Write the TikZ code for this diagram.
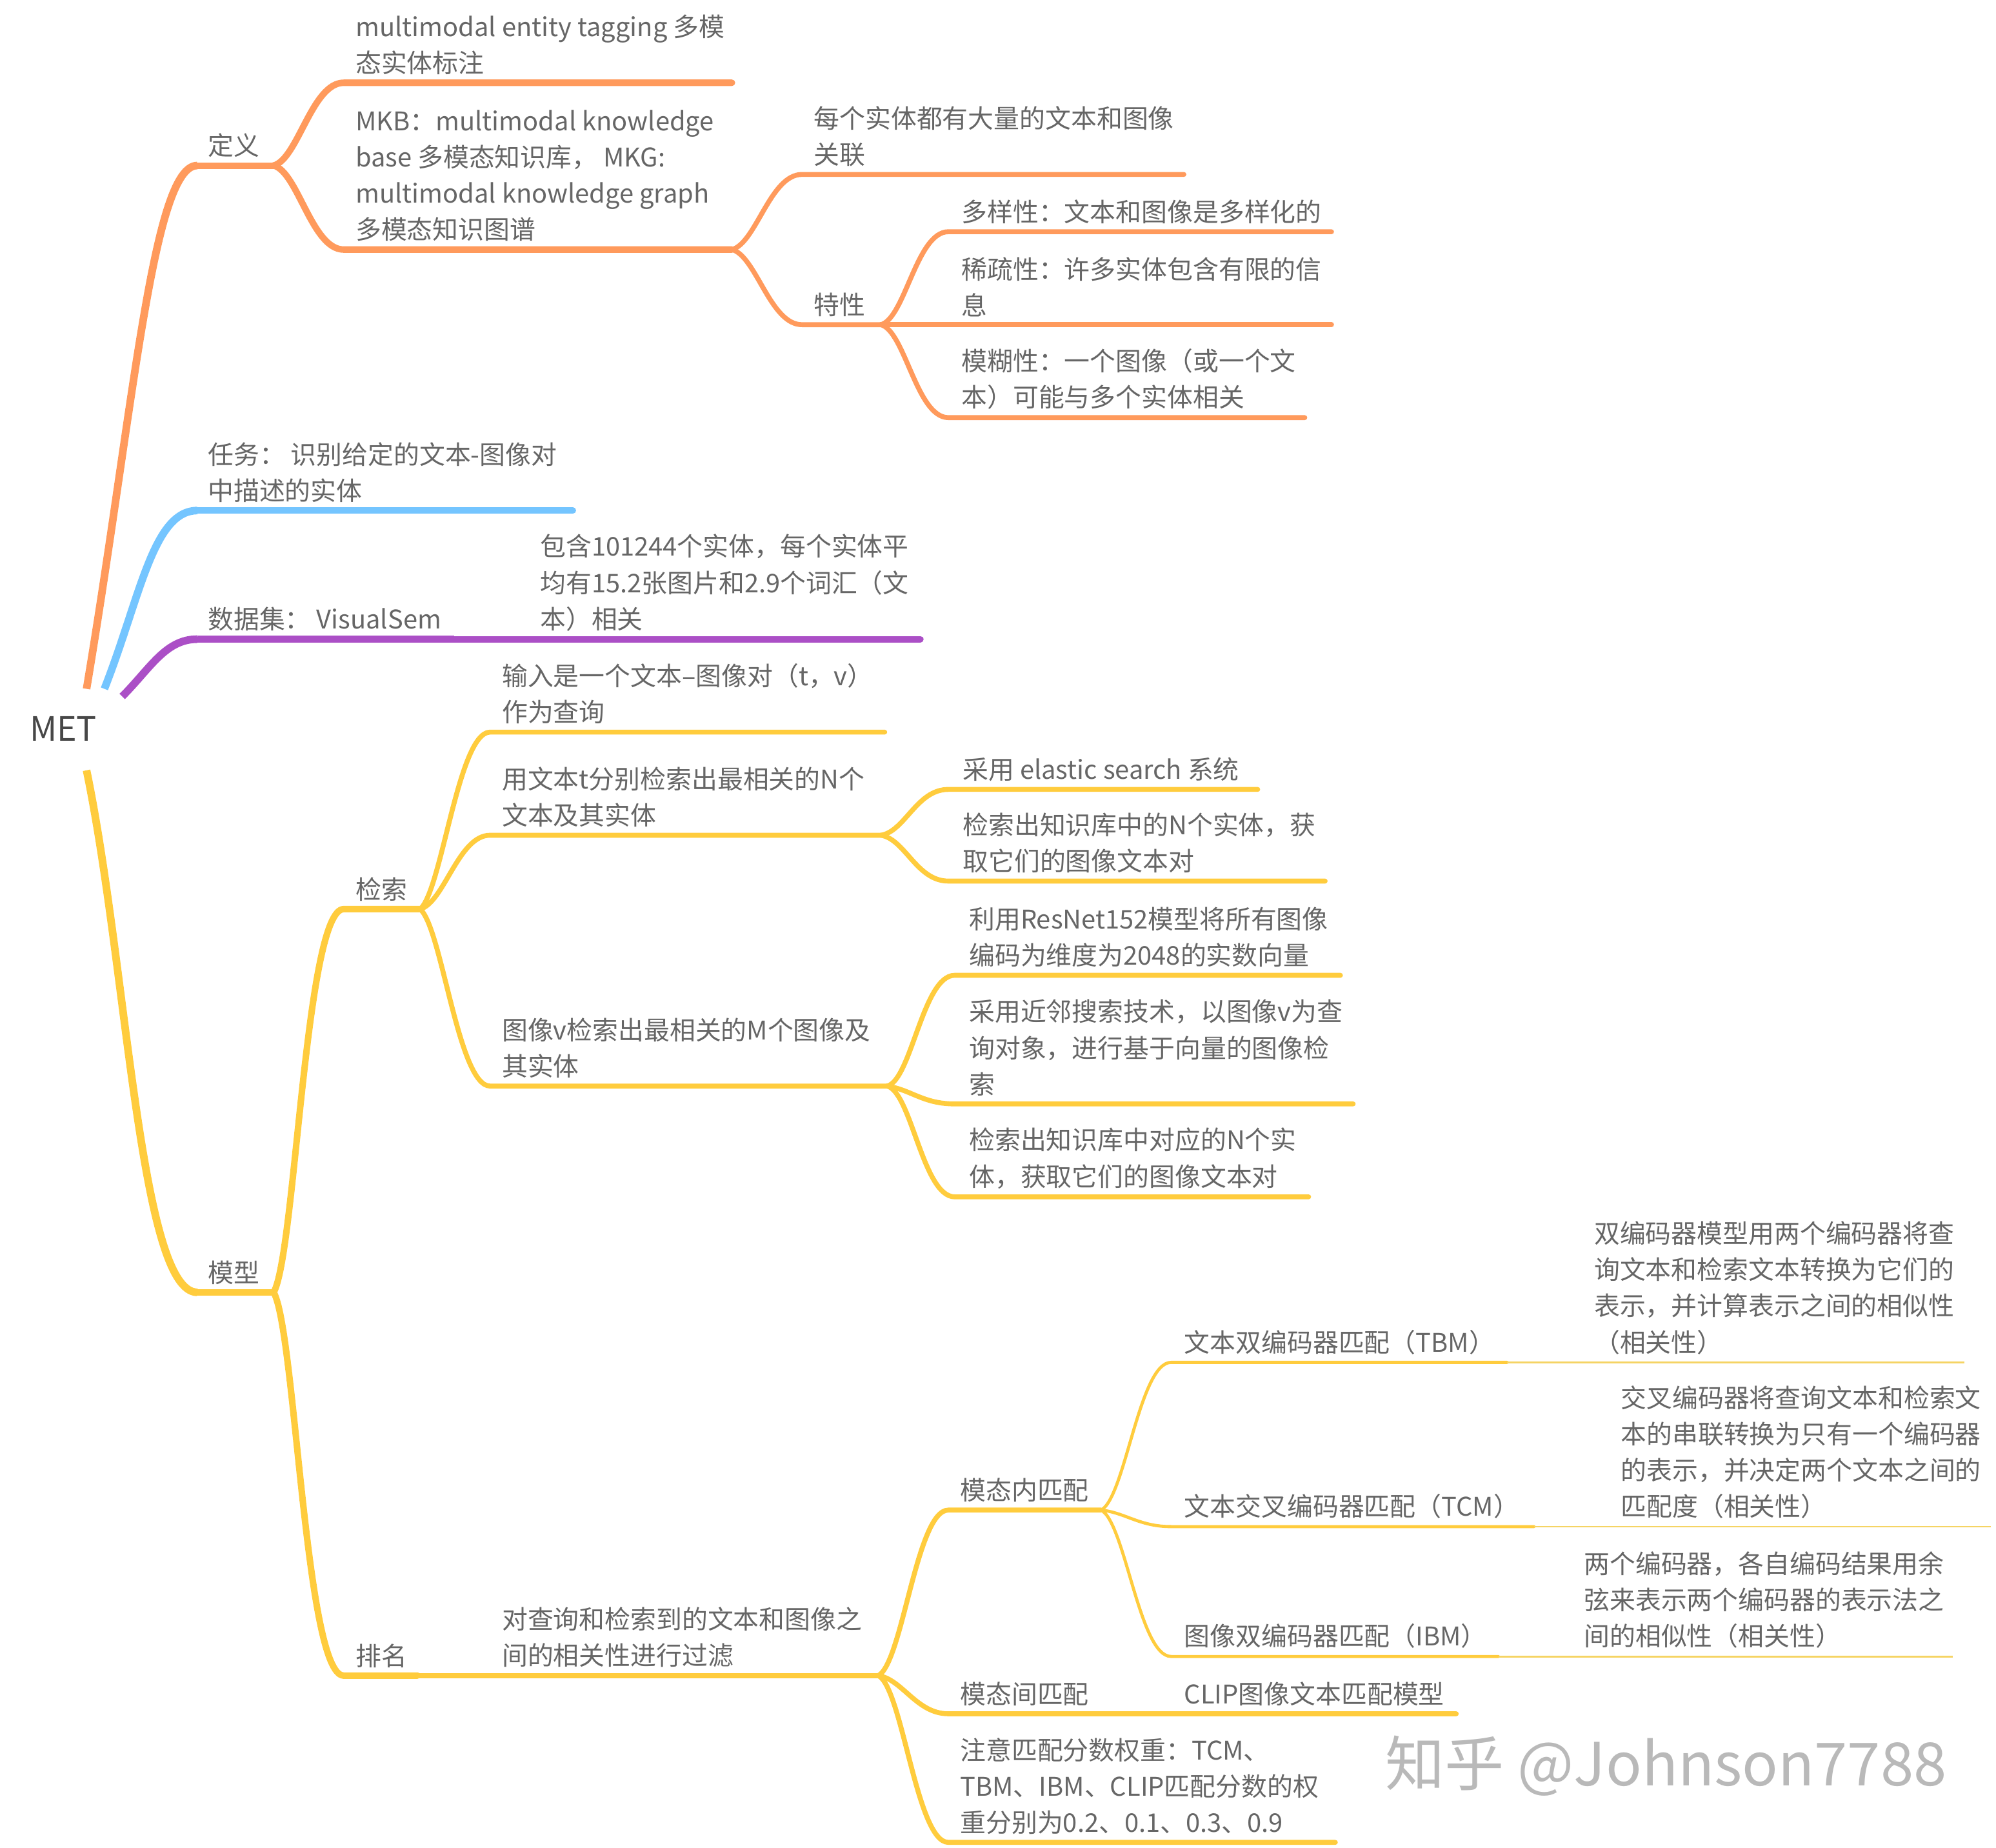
\documentclass[tikz,border=0pt]{standalone}
\usepackage{fontspec}
\setmainfont{Noto Sans CJK SC}
\usepackage{xcolor}
\definecolor{orangeline}{RGB}{255,154,92}
\definecolor{blueline}{RGB}{116,197,255}
\definecolor{purpleline}{RGB}{171,79,198}
\definecolor{yellowline}{RGB}{255,204,61}
\definecolor{thinline}{RGB}{245,212,100}
\definecolor{txtgray}{RGB}{102,102,102}
\tikzset{
	txt/.style={anchor=south west,inner sep=0pt,align=left,yshift=0.02cm,text=txtgray,font=\fontsize{11.5}{16.2}\selectfont},
	lvlone/.style={line width=3.4pt},
	lvltwo/.style={line width=2.9pt,line cap=round},
	lvlthree/.style={line width=2.2pt,line cap=round},
	lvlfour/.style={line width=1.4pt,line cap=round},
	lvlfive/.style={line width=0.8pt,color=thinline}
}
\begin{document}
\begin{tikzpicture}[x=0.02cm,y=-0.02cm]
	\useasboundingbox (0,0) rectangle (1568,1451);
	\node[anchor=base west,inner sep=0pt,text=black!72,font=\fontsize{15}{16}\selectfont] (met) at (23,582) {MET};

	\coordinate (rootdef) at (68,541);
	\coordinate (roottask) at (82,541);
	\coordinate (rootdata) at (96,547);
	\coordinate (rootmodel) at (68,605);

	\coordinate (def1) at (155,130);
	\coordinate (def2) at (215,130);
	\coordinate (defa1) at (270,65);
	\coordinate (defa2) at (575,65);
	\coordinate (defb1) at (270,196);
	\coordinate (defb2) at (575,196);
	\coordinate (defc1) at (630,137);
	\coordinate (defc2) at (930,137);
	\coordinate (prop1) at (630,255);
	\coordinate (prop2) at (692,255);
	\coordinate (propa1) at (745,182);
	\coordinate (propa2) at (1046,182);
	\coordinate (propb2) at (1046,255);
	\coordinate (propc1) at (745,328);
	\coordinate (propc2) at (1025,328);

	\coordinate (task1) at (155,401);
	\coordinate (task2) at (450,401);
	\coordinate (data1) at (155,502);
	\coordinate (data2) at (357,502);
	\coordinate (data3) at (723,502);

	\coordinate (model1) at (155,1015);
	\coordinate (model2) at (215,1015);
	\coordinate (ret1) at (270,714);
	\coordinate (ret2) at (330,714);
	\coordinate (inp1) at (385,575);
	\coordinate (inp2) at (695,575);
	\coordinate (txtq1) at (385,656);
	\coordinate (txtq2) at (692,656);
	\coordinate (txta1) at (745,620);
	\coordinate (txta2) at (988,620);
	\coordinate (txtb1) at (745,692);
	\coordinate (txtb2) at (1041,692);
	\coordinate (imgq1) at (385,853);
	\coordinate (imgq2) at (697,853);
	\coordinate (imga1) at (750,766);
	\coordinate (imga2) at (1053,766);
	\coordinate (imgb1) at (750,867);
	\coordinate (imgb2) at (1063,867);
	\coordinate (imgc1) at (750,940);
	\coordinate (imgc2) at (1028,940);

	\coordinate (rank1) at (270,1316);
	\coordinate (rank2) at (328,1316);
	\coordinate (rank3) at (690,1316);
	\coordinate (intra1) at (745,1186);
	\coordinate (intra2) at (865,1186);
	\coordinate (tbm1) at (920,1070);
	\coordinate (tbm2) at (1184,1070);
	\coordinate (tbm3) at (1543,1070);
	\coordinate (tcm1) at (920,1199);
	\coordinate (tcm2) at (1205,1199);
	\coordinate (tcm3) at (1564,1199);
	\coordinate (ibm1) at (920,1301);
	\coordinate (ibm2) at (1177,1301);
	\coordinate (ibm3) at (1534,1301);
	\coordinate (inter1) at (745,1346);
	\coordinate (inter2) at (1144,1346);
	\coordinate (attn1) at (745,1447);
	\coordinate (attn2) at (1049,1447);

	\draw[lvlone,orangeline] (rootdef) .. controls (105,320) and (120,130) .. (def1);
	\draw[lvltwo,orangeline] (def1) -- (def2);
	\draw[lvltwo,orangeline] (def2) .. controls +(19,-5) and +(-25,0) .. (defa1) -- (defa2);
	\draw[lvltwo,orangeline] (def2) .. controls +(19,5) and +(-25,0) .. (defb1) -- (defb2);
	\draw[lvlthree,orangeline] (defb2) .. controls +(19,-5) and +(-25,0) .. (defc1) -- (defc2);
	\draw[lvlthree,orangeline] (defb2) .. controls +(19,5) and +(-25,0) .. (prop1) -- (prop2);
	\draw[lvlthree,orangeline] (prop2) .. controls +(19,-5) and +(-25,0) .. (propa1) -- (propa2);
	\draw[lvlthree,orangeline] (prop2) -- (propb2);
	\draw[lvlthree,orangeline] (prop2) .. controls +(19,5) and +(-25,0) .. (propc1) -- (propc2);

	\draw[lvlone,blueline] (roottask) .. controls (110,470) and (120,401) .. (task1);
	\draw[lvltwo,blueline] (task1) -- (task2);

	\draw[lvlone,purpleline] (rootdata) .. controls (118,525) and (130,502) .. (data1);
	\draw[lvlone,purpleline] (data1) -- (data2);
	\draw[lvltwo,purpleline] (data2) -- (data3);

	\draw[lvlone,yellowline] (rootmodel) .. controls (100,760) and (110,1015) .. (model1);
	\draw[lvltwo,yellowline] (model1) -- (model2);
	\draw[lvltwo,yellowline] (model2) .. controls +(17,-30) and +(-30,0) .. (ret1) -- (ret2);
	\draw[lvltwo,yellowline] (model2) .. controls +(17,30) and +(-30,0) .. (rank1) -- (rank2);
	\draw[lvlthree,yellowline] (ret2) .. controls +(17,-14) and +(-25,0) .. (inp1) -- (inp2);
	\draw[lvlthree,yellowline] (ret2) .. controls +(19,-5) and +(-25,0) .. (txtq1) -- (txtq2);
	\draw[lvlthree,yellowline] (ret2) .. controls +(17,14) and +(-25,0) .. (imgq1) -- (imgq2);
	\draw[lvlthree,yellowline] (txtq2) .. controls +(19,-3) and +(-25,0) .. (txta1) -- (txta2);
	\draw[lvlthree,yellowline] (txtq2) .. controls +(19,3) and +(-25,0) .. (txtb1) -- (txtb2);
	\draw[lvlthree,yellowline] (imgq2) .. controls +(19,-5) and +(-25,0) .. (imga1) -- (imga2);
	\draw[lvlthree,yellowline] (imgq2) .. controls +(19,3) and +(-25,0) .. (imgb1) -- (imgb2);
	\draw[lvlthree,yellowline] (imgq2) .. controls +(19,5) and +(-25,0) .. (imgc1) -- (imgc2);
	\draw[lvlthree,yellowline] (rank2) -- (rank3);
	\draw[lvlthree,yellowline] (rank3) .. controls +(19,-10) and +(-25,0) .. (intra1) -- (intra2);
	\draw[lvlthree,yellowline] (rank3) .. controls +(19,3) and +(-25,0) .. (inter1) -- (inter2);
	\draw[lvlthree,yellowline] (rank3) .. controls +(19,10) and +(-25,0) .. (attn1) -- (attn2);
	\draw[lvlfour,yellowline] (intra2) .. controls +(19,-10) and +(-25,0) .. (tbm1) -- (tbm2);
	\draw[lvlfour,yellowline] (intra2) .. controls +(19,2) and +(-25,0) .. (tcm1) -- (tcm2);
	\draw[lvlfour,yellowline] (intra2) .. controls +(19,10) and +(-25,0) .. (ibm1) -- (ibm2);
	\draw[lvlfive] (tbm2) -- (tbm3);
	\draw[lvlfive] (tcm2) -- (tcm3);
	\draw[lvlfive] (ibm2) -- (ibm3);

	\node[txt] (def) at (163,125) {定义};
	\node[txt] (defa) at (279,60) {multimodal entity tagging 多模\\态实体标注};
	\node[txt] (defb) at (279,191) {MKB：multimodal knowledge\\base 多模态知识库， MKG:\\multimodal knowledge graph\\多模态知识图谱};
	\node[txt] (defc) at (639,132) {每个实体都有大量的文本和图像\\关联};
	\node[txt] (prop) at (639,250) {特性};
	\node[txt] (propa) at (755,177) {多样性：文本和图像是多样化的};
	\node[txt] (propb) at (755,250) {稀疏性：许多实体包含有限的信\\息};
	\node[txt] (propc) at (755,323) {模糊性：一个图像（或一个文\\本）可能与多个实体相关};
	\node[txt] (task) at (163,396) {任务： 识别给定的文本-图像对\\中描述的实体};
	\node[txt] (data) at (163,497) {数据集： VisualSem};
	\node[txt] (datab) at (424,497) {包含101244个实体，每个实体平\\均有15.2张图片和2.9个词汇（文\\本）相关};
	\node[txt] (model) at (163,1010) {模型};
	\node[txt] (ret) at (279,709) {检索};
	\node[txt] (inp) at (394,570) {输入是一个文本–图像对（t，v）\\作为查询};
	\node[txt] (txtq) at (394,651) {用文本t分别检索出最相关的N个\\文本及其实体};
	\node[txt] (txta) at (756,615) {采用 elastic search 系统};
	\node[txt] (txtb) at (756,687) {检索出知识库中的N个实体，获\\取它们的图像文本对};
	\node[txt] (imgq) at (394,848) {图像v检索出最相关的M个图像及\\其实体};
	\node[txt] (imga) at (761,761) {利用ResNet152模型将所有图像\\编码为维度为2048的实数向量};
	\node[txt] (imgb) at (761,862) {采用近邻搜索技术，以图像v为查\\询对象，进行基于向量的图像检\\索};
	\node[txt] (imgc) at (761,935) {检索出知识库中对应的N个实\\体，获取它们的图像文本对};
	\node[txt] (rank) at (279,1311) {排名};
	\node[txt] (rankb) at (394,1311) {对查询和检索到的文本和图像之\\间的相关性进行过滤};
	\node[txt] (intra) at (754,1181) {模态内匹配};
	\node[txt] (tbm) at (930,1065) {文本双编码器匹配（TBM）};
	\node[txt] (tbmb) at (1252,1065) {双编码器模型用两个编码器将查\\询文本和检索文本转换为它们的\\表示，并计算表示之间的相似性\\（相关性）};
	\node[txt] (tcm) at (930,1194) {文本交叉编码器匹配（TCM）};
	\node[txt] (tcmb) at (1273,1194) {交叉编码器将查询文本和检索文\\本的串联转换为只有一个编码器\\的表示，并决定两个文本之间的\\匹配度（相关性）};
	\node[txt] (ibm) at (930,1296) {图像双编码器匹配（IBM）};
	\node[txt] (ibmb) at (1244,1296) {两个编码器，各自编码结果用余\\弦来表示两个编码器的表示法之\\间的相似性（相关性）};
	\node[txt] (inter) at (754,1341) {模态间匹配};
	\node[txt] (clip) at (930,1341) {CLIP图像文本匹配模型};
	\node[txt] (attn) at (754,1442) {注意匹配分数权重：TCM、\\TBM、IBM、CLIP匹配分数的权\\重分别为0.2、0.1、0.3、0.9};

	\node[anchor=west,inner sep=0pt,text=gray!55,font=\fontsize{26.6}{30}\selectfont] (mark) at (1088,1387) {知乎 @Johnson7788};
\end{tikzpicture}
\end{document}
